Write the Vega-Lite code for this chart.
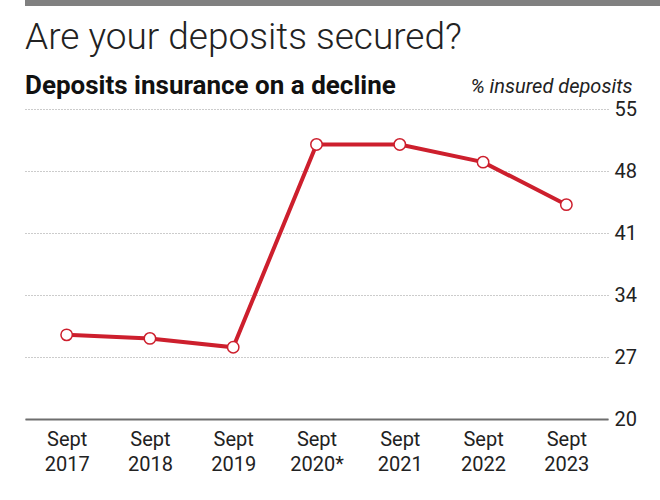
{
  "$schema": "https://vega.github.io/schema/vega-lite/v6.json",
  "padding": 0,
  "spacing": 13,
  "background": "white",
  "vconcat": [
    {
      "width": 660,
      "height": 6,
      "data": {"values": [{"start": 0, "end": 1}]},
      "mark": {"type": "rect", "color": "#808080"},
      "encoding": {
        "x": {"field": "start", "type": "quantitative", "axis": null, "scale": {"domain": [0, 1]}},
        "x2": {"field": "end"}
      }
    },
    {
      "width": 583,
      "height": 310,
      "title": {
        "text": "Are your deposits secured?",
        "subtitle": "Deposits insurance on a decline",
        "anchor": "start",
        "frame": "group",
        "font": "Roboto",
        "fontSize": 37,
        "fontWeight": 300,
        "color": "#222222",
        "subtitleFont": "Roboto",
        "subtitleFontSize": 26,
        "subtitleFontWeight": "bold",
        "subtitleColor": "#111111",
        "subtitlePadding": 16,
        "offset": -24
      },
      "data": {
        "values": [
          {"period": "Sept 2017", "pct": 29.5},
          {"period": "Sept 2018", "pct": 29.1},
          {"period": "Sept 2019", "pct": 28.1},
          {"period": "Sept 2020*", "pct": 51.0},
          {"period": "Sept 2021", "pct": 51.0},
          {"period": "Sept 2022", "pct": 49.0},
          {"period": "Sept 2023", "pct": 44.2}
        ]
      },
      "encoding": {
        "x": {
          "field": "period",
          "type": "ordinal",
          "sort": null,
          "scale": {"type": "point", "padding": 0.5},
          "axis": {
            "title": null,
            "labelAngle": 0,
            "ticks": false,
            "domainColor": "#6e6e6e",
            "domainWidth": 2,
            "labelExpr": "split(datum.label, ' ')",
            "labelFont": "Roboto",
            "labelFontSize": 20,
            "labelColor": "#222222",
            "labelLineHeight": 25,
            "labelPadding": 10
          }
        }
      },
      "layer": [
        {
          "mark": {"type": "line", "color": "#cd1f2d", "strokeWidth": 4},
          "encoding": {
            "y": {
              "field": "pct",
              "type": "quantitative",
              "scale": {"domain": [20, 55], "nice": false, "zero": false},
              "axis": {
                "orient": "right",
                "values": [20, 27, 34, 41, 48, 55],
                "domain": false,
                "ticks": false,
                "grid": true,
                "gridColor": "#999999",
                "gridDash": [1, 2],
                "gridWidth": 1,
                "labelPadding": 6,
                "labelFont": "Roboto",
                "labelFontSize": 20,
                "labelColor": "#222222",
                "title": "% insured deposits",
                "titleAngle": 0,
                "titleAlign": "right",
                "titleBaseline": "alphabetic",
                "titleX": 24,
                "titleY": -17,
                "titleFont": "Roboto",
                "titleFontStyle": "italic",
                "titleFontWeight": "normal",
                "titleFontSize": 20,
                "titleColor": "#222222"
              }
            }
          }
        },
        {
          "mark": {"type": "point", "filled": true, "fill": "white", "stroke": "#cd1f2d", "strokeWidth": 1.5, "size": 130, "opacity": 1},
          "encoding": {
            "y": {
              "field": "pct",
              "type": "quantitative",
              "axis": {
                "orient": "left",
                "labels": false,
                "ticks": false,
                "domain": false,
                "grid": false,
                "title": null,
                "minExtent": 25,
                "maxExtent": 25
              }
            }
          }
        }
      ],
      "resolve": {"axis": {"y": "independent"}}
    }
  ],
  "config": {"view": {"stroke": null}}
}
